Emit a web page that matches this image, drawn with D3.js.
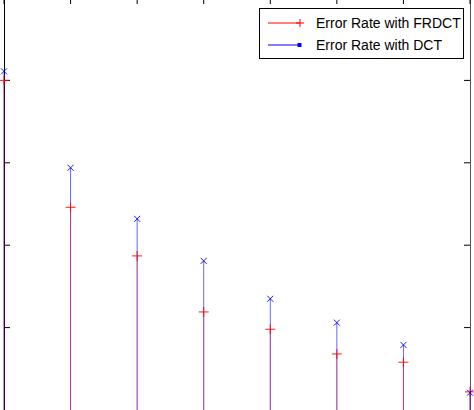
<!DOCTYPE html><html><head><meta charset="utf-8"><script src="https://cdn.jsdelivr.net/npm/d3@7"></script>
<style>body{margin:0;background:#fff}</style></head><body><svg id="c" width="474" height="410"></svg><script>
const xIdx=[0,1,2,3,4,5,6,7];
const frdct=[4.0,2.46,1.87,1.19,0.98,0.68,0.58,0.22];
const dct=[4.11,2.94,2.32,1.81,1.35,1.06,0.79,0.21];
const yTicks=[1,2,3,4];
const names=["Error Rate with FRDCT","Error Rate with DCT"];
const svg=d3.select("#c");
const x=d3.scaleLinear().domain([0,7]).range([4,470]);
const y=d3.scaleLinear().domain([0,5]).range([410,-2]);
// frame
svg.append("line").attr("x1",4.5).attr("x2",4.5).attr("y1",-2).attr("y2",410).attr("stroke","#000");
svg.append("line").attr("x1",470.5).attr("x2",470.5).attr("y1",-2).attr("y2",410).attr("stroke","#555");
const tk=svg.append("g");
xIdx.forEach(i=>tk.append("line").attr("x1",x(i)).attr("x2",x(i)).attr("y1",-2).attr("y2",4).attr("stroke","#000"));
yTicks.forEach(v=>{tk.append("line").attr("x1",4).attr("x2",10).attr("y1",y(v)).attr("y2",y(v)).attr("stroke","#000");
tk.append("line").attr("x1",464).attr("x2",470).attr("y1",y(v)).attr("y2",y(v)).attr("stroke","#000");});
// stems
xIdx.forEach(i=>{
 svg.append("line").attr("x1",x(i)).attr("x2",x(i)).attr("y1",y(0)).attr("y2",y(dct[i])).attr("stroke","blue").attr("stroke-opacity",0.6);
 svg.append("line").attr("x1",x(i)).attr("x2",x(i)).attr("y1",y(0)).attr("y2",y(frdct[i])).attr("stroke","red").attr("stroke-opacity",0.4);
 const cx=x(i),cy=y(frdct[i]);
 svg.append("path").attr("d",`M${cx-5},${cy}H${cx+5}M${cx},${cy-5}V${cy+5}`).attr("stroke","red").attr("stroke-width",0.9);
 const bx=x(i),by=y(dct[i]);
 svg.append("path").attr("d",`M${bx-3},${by-3}L${bx+3},${by+3}M${bx-3},${by+3}L${bx+3},${by-3}`).attr("stroke","blue").attr("stroke-width",0.9);
});
// legend
const lg=svg.append("g");
lg.append("rect").attr("x",259.5).attr("y",8.5).attr("width",204).attr("height",50).attr("fill","#fff").attr("stroke","#000");
[["red",0],["blue",1]].forEach(([c,k])=>{
 const yy=23+22*k;
 lg.append("line").attr("x1",268).attr("x2",300).attr("y1",yy).attr("y2",yy).attr("stroke",c);
 if(k==0) lg.append("path").attr("d",`M${296},${yy}H${304}M300,${yy-4}V${yy+4}`).attr("stroke",c);
 else lg.append("rect").attr("x",297.5).attr("y",yy-2).attr("width",4).attr("height",4).attr("fill",c);
 lg.append("text").attr("x",316).attr("y",yy+5).attr("font-family","Liberation Sans, Arial").attr("font-size",14).text(names[k]);
});
</script></body></html>
